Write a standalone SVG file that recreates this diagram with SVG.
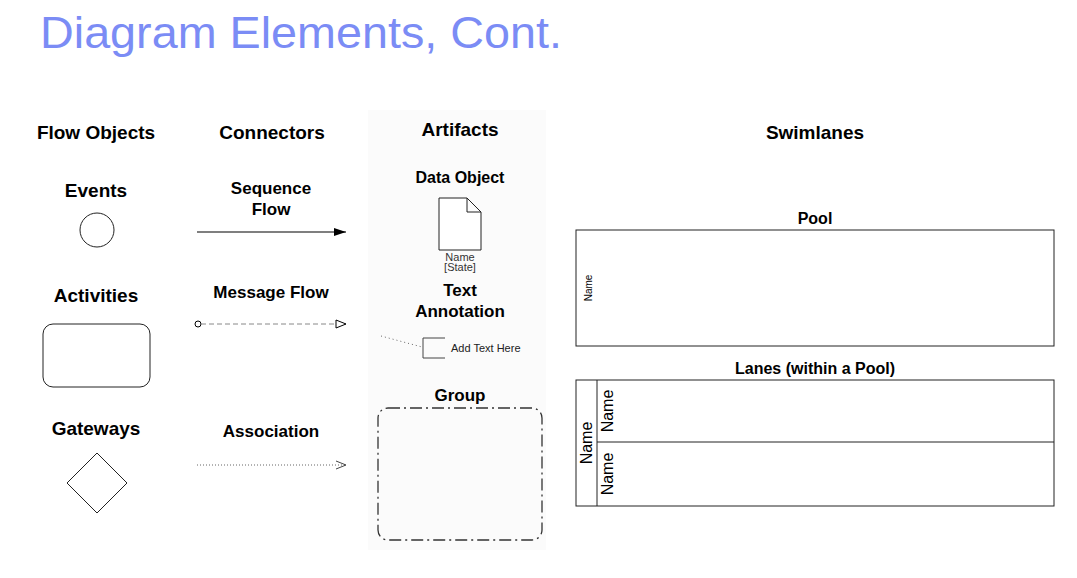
<svg xmlns="http://www.w3.org/2000/svg" width="1077" height="578" viewBox="0 0 1077 578">
<style>
text{font-family:"Liberation Sans",Arial,sans-serif;fill:#000}
.h{font-size:19px;font-weight:bold;text-anchor:middle}
.s{font-size:17px;font-weight:bold;text-anchor:middle}
.sh{fill:#fff;stroke:#222;stroke-width:1}
</style>
<defs>
<marker id="fa" markerWidth="12" markerHeight="10" refX="12" refY="5" orient="auto" markerUnits="userSpaceOnUse"><path d="M0,1 L12,5 L0,9 Z" fill="#000"/></marker>
<marker id="oa" markerWidth="12" markerHeight="10" refX="11" refY="5" orient="auto" markerUnits="userSpaceOnUse"><path d="M1,1 L11,5 L1,9 Z" fill="#fff" stroke="#000"/></marker>
<marker id="va" markerWidth="12" markerHeight="10" refX="11" refY="5" orient="auto" markerUnits="userSpaceOnUse"><path d="M1,1 L11,5 L1,9" fill="none" stroke="#444"/></marker>
</defs>
<rect width="1077" height="578" fill="#fff"/>
<rect x="368" y="110" width="178" height="440" fill="#fbfbfb"/>
<text x="40" y="48" textLength="522" lengthAdjust="spacingAndGlyphs" style="font-size:44px;fill:#7b8cf5">Diagram Elements, Cont.</text>
<text class="h" x="96" y="139">Flow Objects</text>
<text class="h" x="272" y="139">Connectors</text>
<text class="h" x="460" y="136">Artifacts</text>
<text class="h" x="815" y="139">Swimlanes</text>

<g id="events"><text class="h" x="96" y="197">Events</text><circle class="sh" cx="97" cy="230" r="17"/></g>
<g id="activities"><text class="h" x="96" y="302">Activities</text><rect class="sh" x="43" y="324" width="107" height="63" rx="10"/></g>
<g id="gateways"><text class="h" x="96" y="435">Gateways</text><path class="sh" d="M97,453 L127,483 L97,513 L67,483 Z"/></g>

<g id="seq-label"><text class="s" x="271" y="194">Sequence</text><text class="s" x="271" y="215">Flow</text></g>
<g id="msg-label"><text class="s" x="271" y="298">Message Flow</text></g>
<g id="assoc-label"><text class="s" x="271" y="437">Association</text></g>

<g id="connectors">
<line x1="197" y1="232" x2="346" y2="232" stroke="#000" stroke-width="1.2" marker-end="url(#fa)"/>
<circle cx="198" cy="324" r="3" fill="#fff" stroke="#000"/>
<line x1="201" y1="324" x2="346" y2="324" stroke="#888" stroke-dasharray="5,3" marker-end="url(#oa)"/>
<line x1="197" y1="465" x2="346" y2="465" stroke="#666" stroke-dasharray="1,2" marker-end="url(#va)"/>
<line x1="381" y1="336" x2="422" y2="347" stroke="#666" stroke-dasharray="1,3"/>
</g>

<g id="data-object"><text class="s" x="460" y="183" style="font-size:16px">Data Object</text>
<path class="sh" d="M439,198 L467,198 L481,212 L481,250 L439,250 Z M467,198 L467,212 L481,212" stroke="#444"/>
<text x="460" y="261" style="font-size:11px;text-anchor:middle;fill:#333">Name</text>
<text x="460" y="271" style="font-size:11px;text-anchor:middle;fill:#333">[State]</text></g>
<g id="text-annotation"><text class="s" x="460" y="296">Text</text><text class="s" x="460" y="317">Annotation</text>
<path d="M445,338 L423,338 L423,358 L445,358" fill="none" stroke="#444"/>
<text x="451" y="352" style="font-size:11px;fill:#222">Add Text Here</text></g>
<g id="group"><text class="s" x="460" y="401">Group</text>
<rect x="378" y="408" width="164" height="132" rx="10" fill="none" stroke="#333" stroke-width="1.3" stroke-dasharray="12,4,2,4"/></g>

<g id="pool"><text class="s" x="815" y="224" style="font-size:16px">Pool</text>
<rect class="sh" x="576" y="230" width="478" height="116"/>
<text transform="translate(592,288) rotate(-90)" style="font-size:10px;text-anchor:middle">Name</text></g>
<g id="lanes"><text class="s" x="815" y="374" style="font-size:16px">Lanes (within a Pool)</text>
<rect class="sh" x="576" y="380" width="478" height="126"/>
<line x1="597" y1="380" x2="597" y2="506" stroke="#222"/>
<line x1="597" y1="442" x2="1054" y2="442" stroke="#222"/>
<text transform="translate(592,443) rotate(-90)" style="font-size:16px;text-anchor:middle">Name</text>
<text transform="translate(613,411) rotate(-90)" style="font-size:16px;text-anchor:middle">Name</text>
<text transform="translate(613,474) rotate(-90)" style="font-size:16px;text-anchor:middle">Name</text></g>
</svg>
